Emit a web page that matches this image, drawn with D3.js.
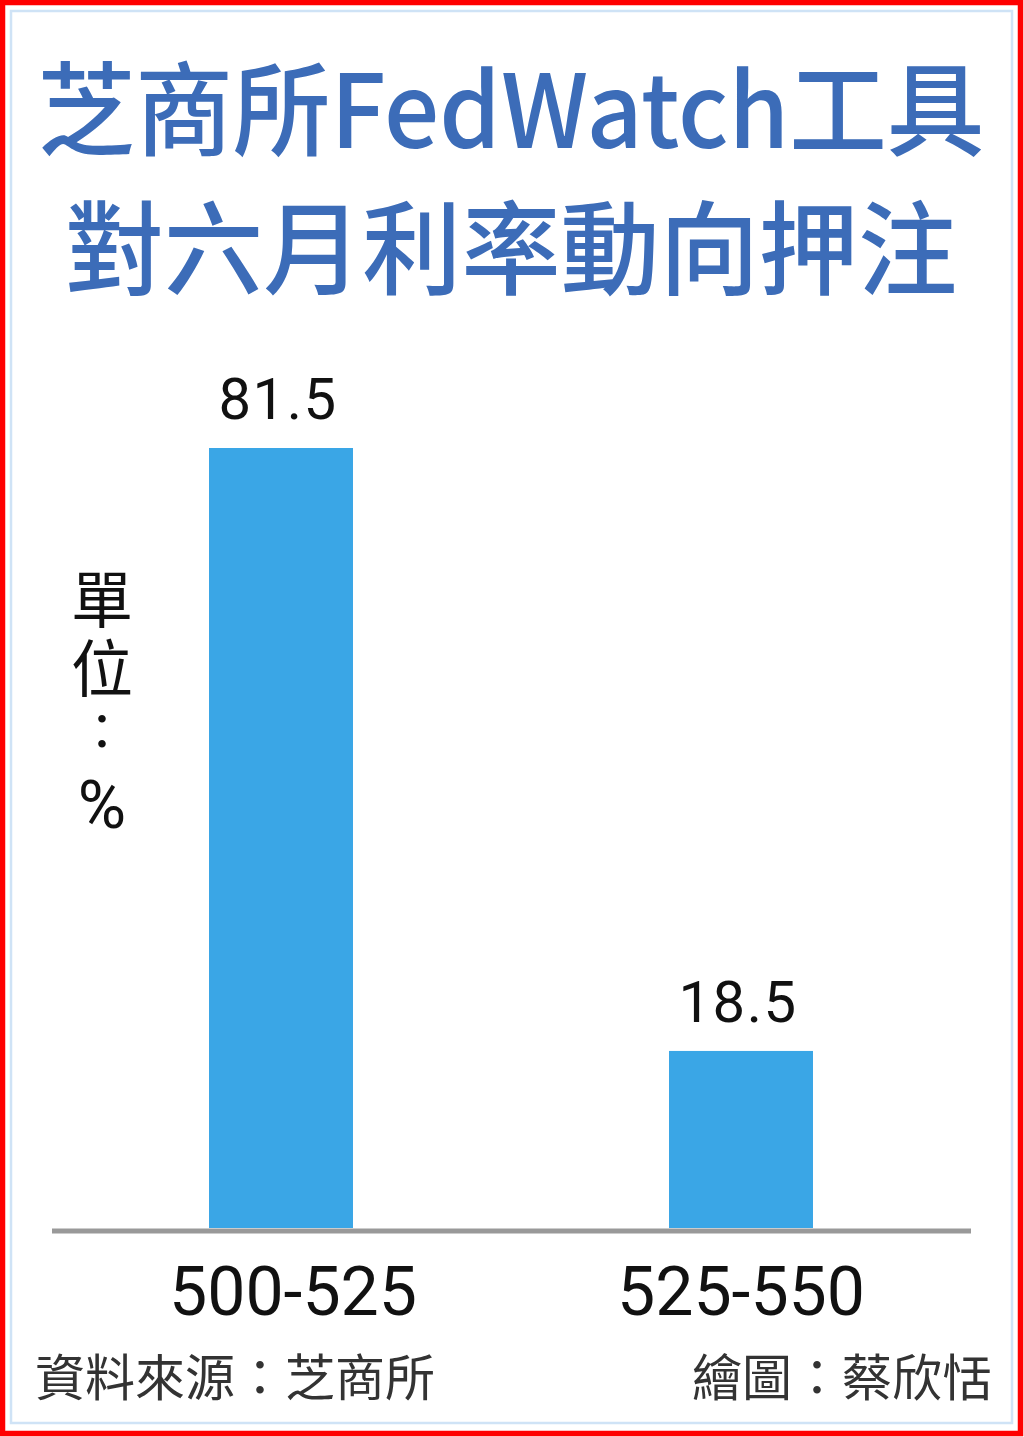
<!DOCTYPE html>
<html><head><meta charset="utf-8">
<script src="https://cdn.jsdelivr.net/npm/d3@7"></script>
<style>html,body{margin:0;padding:0;background:#fff;}svg{display:block;}</style>
</head><body>
<div id="chart"></div>
<script>
const titleLines = ["芝商所FedWatch工具", "對六月利率動向押注"];
const categories = ["500-525", "525-550"];
const values = [81.5, 18.5];
const unitChars = ["單", "位", "：", "%"];
const sourceText = "資料來源：芝商所";
const creditText = "繪圖：蔡欣恬";

const W = 1024, H = 1437;
const cjk = "'Noto Sans CJK TC','Noto Sans CJK SC',sans-serif";
const num = "Roboto,'Liberation Sans',Arial,sans-serif";

const svg = d3.select("#chart").append("svg").attr("width", W).attr("height", H);
svg.append("rect").attr("x",0).attr("y",0).attr("width",W).attr("height",H).attr("fill","#fff");

// frame
svg.append("rect").attr("x",2.5).attr("y",2.5).attr("width",1018).attr("height",1431)
  .attr("fill","none").attr("stroke","#ff0000").attr("stroke-width",5.5);
svg.append("rect").attr("x",11).attr("y",11).attr("width",1001).attr("height",1412)
  .attr("fill","none").attr("stroke","#cfe3f6").attr("stroke-width",2.5);

// title
const titleY = [148, 287];
const titleLen = [947, 892];
svg.selectAll("text.title").data(titleLines).join("text")
  .attr("class","title")
  .attr("x", 511).attr("y", (d,i)=>titleY[i])
  .attr("text-anchor","middle")
  .attr("font-family", cjk).attr("font-size", 102).attr("font-weight", 500)
  .attr("fill","#3c6cb8")
  .attr("textLength",(d,i)=>titleLen[i]).attr("lengthAdjust","spacingAndGlyphs")
  .text(d=>d);

// scales
const baseY = 1228;
const x = d3.scaleBand().domain(categories).range([51, 971]).paddingInner(0.687).paddingOuter(0.3435);
const y = d3.scaleLinear().domain([0, 81.5]).range([baseY, 448]);

const data = categories.map((c,i)=>({c, v: values[i]}));

svg.selectAll("rect.bar").data(data).join("rect")
  .attr("class","bar")
  .attr("x", d=>x(d.c)).attr("width", x.bandwidth())
  .attr("y", d=>y(d.v)).attr("height", d=>baseY - y(d.v))
  .attr("fill","#3aa6e6");

// axis
const labelShift = [12, 0];
const axis = svg.append("g").attr("transform", `translate(0,${baseY+3})`)
  .call(d3.axisBottom(x).tickSize(0).tickPadding(0));
axis.select(".domain").attr("stroke","#999").attr("stroke-width",5).attr("d","M52,0H971");
axis.selectAll(".tick text")
  .attr("font-family", num).attr("font-size", 68).attr("fill","#111")
  .attr("dy", null).attr("y", 84).attr("dx", (d,i)=>labelShift[i]);

// value labels
svg.selectAll("text.val").data(data).join("text")
  .attr("class","val")
  .attr("x", d=>x(d.c)+x.bandwidth()/2 - 3).attr("y", d=>y(d.v)-29)
  .attr("text-anchor","middle")
  .attr("font-family", num).attr("font-size", 58).attr("letter-spacing", 1.5)
  .attr("fill","#111")
  .text(d=>d3.format(".1f")(d.v));

// unit label (vertical, one text with tspans)
const unitY = [623, 692, 750, 828];
const unitSize = [62, 62, 50, 66];
svg.append("text").attr("class","unit")
  .attr("text-anchor","middle").attr("fill","#111")
  .selectAll("tspan").data(unitChars).join("tspan")
  .attr("x", 102).attr("y",(d,i)=>unitY[i])
  .attr("font-family",(d,i)=> i===3 ? num : cjk)
  .attr("font-size",(d,i)=>unitSize[i])
  .text(d=>d);

// footer
svg.append("text").attr("x", 35).attr("y", 1396)
  .attr("font-family", cjk).attr("font-size", 50).attr("fill","#333")
  .attr("textLength", 400).attr("lengthAdjust","spacingAndGlyphs")
  .text(sourceText);
svg.append("text").attr("x", 992).attr("y", 1396).attr("text-anchor","end")
  .attr("font-family", cjk).attr("font-size", 50).attr("fill","#333")
  .text(creditText);
</script>
</body></html>
